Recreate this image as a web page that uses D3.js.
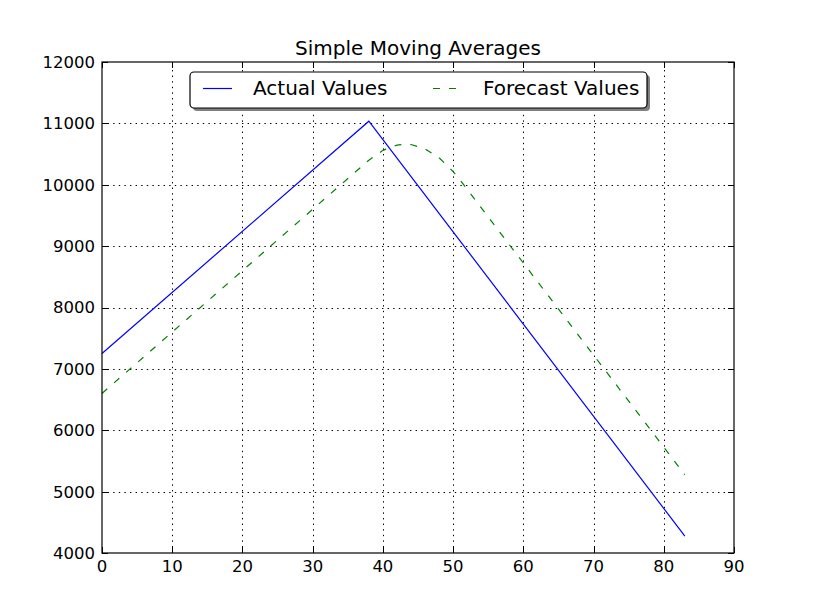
<!DOCTYPE html>
<html lang="en">
<head>
<meta charset="UTF-8">
<title>Simple Moving Averages</title>
<script src="https://d3js.org/d3.v7.min.js"></script>
<style>
  body { margin: 0; background: #fff; }
  text { font-family: "DejaVu Sans", sans-serif; fill: #000; }
</style>
</head>
<body>
<svg id="chart" width="815" height="615"></svg>
<script>
// data
const actualX = [0, 38, 83];
const actualY = [7250, 11035, 4275];

const forecastX = [0, 10, 20, 30, 38, 40, 42, 43, 44, 46, 48, 50, 51, 60, 70, 83];
const forecastY = [6600, 7600, 8600, 9600, 10400, 10560, 10645, 10660, 10655, 10585, 10440, 10215, 10075, 8725, 7225, 5275];

const xTicks = [0, 10, 20, 30, 40, 50, 60, 70, 80, 90];
const yTicks = [4000, 5000, 6000, 7000, 8000, 9000, 10000, 11000, 12000];

const margin = {left: 102, right: 81, top: 62, bottom: 62};
const W = 815, H = 615;

const svg = d3.select("#chart");
svg.append("rect").attr("width", W).attr("height", H).attr("fill", "#fff");

const x = d3.scaleLinear().domain([0, 90]).range([margin.left, W - margin.right]);
const y = d3.scaleLinear().domain([4000, 12000]).range([H - margin.bottom, margin.top]);

const x0 = x.range()[0], x1 = x.range()[1];
const y0 = y.range()[0], y1 = y.range()[1];

// grid
const grid = svg.append("g")
  .attr("stroke", "#000")
  .attr("stroke-width", 1)
  .attr("stroke-dasharray", "1.4,4.2");
grid.selectAll(".gx").data(xTicks.slice(1, -1)).join("line")
  .attr("x1", d => Math.round(x(d)) + 0.5).attr("x2", d => Math.round(x(d)) + 0.5)
  .attr("y1", y0).attr("y2", y1);
grid.selectAll(".gy").data(yTicks.slice(1, -1)).join("line")
  .attr("y1", d => Math.round(y(d)) + 0.5).attr("y2", d => Math.round(y(d)) + 0.5)
  .attr("x1", x0).attr("x2", x1);

// lines
const line = d3.line().x(d => x(d[0])).y(d => y(d[1]));

svg.append("path")
  .datum(d3.zip(forecastX, forecastY))
  .attr("fill", "none")
  .attr("stroke", "#008000")
  .attr("stroke-width", 1.2)
  .attr("stroke-dasharray", "7,9")
  .attr("d", line);

svg.append("path")
  .datum(d3.zip(actualX, actualY))
  .attr("fill", "none")
  .attr("stroke", "#0000ff")
  .attr("stroke-width", 1.2)
  .attr("d", line);

// ticks (inside, all four sides)
const tk = 6;
const ticks = svg.append("g").attr("stroke", "#000").attr("stroke-width", 1);
xTicks.forEach(t => {
  const px = Math.round(x(t)) + 0.5;
  ticks.append("line").attr("x1", px).attr("x2", px).attr("y1", y0).attr("y2", y0 - tk);
  ticks.append("line").attr("x1", px).attr("x2", px).attr("y1", y1).attr("y2", y1 + tk);
});
yTicks.forEach(t => {
  const py = Math.round(y(t)) + 0.5;
  ticks.append("line").attr("x1", x0).attr("x2", x0 + tk).attr("y1", py).attr("y2", py);
  ticks.append("line").attr("x1", x1).attr("x2", x1 - tk).attr("y1", py).attr("y2", py);
});

// frame
svg.append("rect")
  .attr("x", x0).attr("y", y1)
  .attr("width", x1 - x0).attr("height", y0 - y1)
  .attr("fill", "none").attr("stroke", "#000").attr("stroke-width", 1.2);

// tick labels
svg.append("g").selectAll("text").data(xTicks).join("text")
  .attr("x", d => x(d)).attr("y", y0 + 19)
  .attr("text-anchor", "middle")
  .attr("font-size", 16.5)
  .text(d => d);
svg.append("g").selectAll("text").data(yTicks).join("text")
  .attr("x", x0 - 7).attr("y", d => y(d)).attr("dy", "0.36em")
  .attr("text-anchor", "end")
  .attr("font-size", 16.5)
  .text(d => d);

// title
svg.append("text")
  .attr("x", (x0 + x1) / 2).attr("y", 55)
  .attr("text-anchor", "middle")
  .attr("font-size", 20)
  .text("Simple Moving Averages");

// legend
const lg = svg.append("g");
lg.append("rect").attr("x", 193).attr("y", 75).attr("width", 457).attr("height", 36)
  .attr("rx", 4).attr("fill", "#808080");
lg.append("rect").attr("x", 190).attr("y", 72).attr("width", 457).attr("height", 36)
  .attr("rx", 4).attr("fill", "#fff").attr("stroke", "#000").attr("stroke-width", 1.2);

const legendItems = [
  {label: "Actual Values", color: "#0000ff", dash: null, lx: 203, tx: 253},
  {label: "Forecast Values", color: "#008000", dash: "7,9", lx: 433, tx: 483}
];
legendItems.forEach(it => {
  lg.append("line").attr("x1", it.lx).attr("x2", it.lx + 29).attr("y1", 88.5).attr("y2", 88.5)
    .attr("stroke", it.color).attr("stroke-width", 1.2).attr("stroke-dasharray", it.dash);
  lg.append("text").attr("x", it.tx).attr("y", 95).attr("font-size", 20).text(it.label);
});
</script>
</body>
</html>
